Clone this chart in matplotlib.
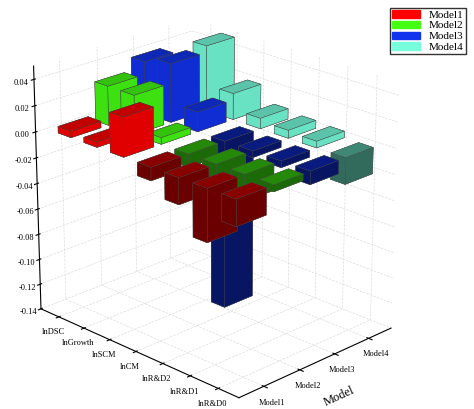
import numpy as np
import matplotlib.pyplot as plt

plt.rcParams['font.family'] = ['Liberation Serif', 'DejaVu Serif']

variables = ['lnDSC', 'lnGrowth', 'lnSCM', 'lnCM', 'lnR&D2', 'lnR&D1', 'lnR&D0']
models = ['Model1', 'Model2', 'Model3', 'Model4']
colors = ['#ff0000', '#44ff11', '#1133ee', '#77ffdd']

model1 = [0.005, 0.004, 0.03, -0.01, -0.02, -0.04, -0.02]
model2 = [0.03, 0.03, 0.005, -0.01, -0.015, -0.02, -0.005]
model3 = [0.04, 0.045, 0.015, -0.13, -0.005, -0.005, -0.01]
model4 = [0.02, 0.05, 0.02, 0.008, 0.006, 0.005, -0.02]
values = [model1, model2, model3, model4]

fig = plt.figure(figsize=(4.74, 4.09), dpi=100)
ax = fig.add_axes([-0.06, -0.03, 1.0, 1.06], projection='3d')

nv = len(variables)
for m, vals in enumerate(values):
    for v, val in enumerate(vals):
        y = nv - 1 - v
        ax.bar3d(m - 0.4, y - 0.25, 0, 0.8, 0.5, val,
                 color=colors[m], edgecolor='#444444', linewidth=0.3, shade=True)

ax.set_xticks(range(len(models)))
ax.set_xticklabels(models, fontsize=6)
ax.set_yticks(range(nv))
ax.set_yticklabels(variables[::-1], fontsize=6)
ax.set_zlim(-0.14, 0.05)
zt = np.arange(-0.14, 0.041, 0.02)
ax.set_zticks(zt)
ax.set_zticklabels([f'{t:.2f}' for t in zt], fontsize=6)
ax.zaxis.set_ticks_position('upper')
ax.set_xlabel('Model', fontsize=9, labelpad=-4)
ax.tick_params(pad=-2)
for a in (ax.xaxis, ax.yaxis, ax.zaxis):
    a.set_pane_color((1, 1, 1, 0))
    a._axinfo['grid']['color'] = '#dddddd'
    a._axinfo['grid']['linestyle'] = '--'
    a._axinfo['grid']['linewidth'] = 0.5
ax.view_init(elev=22, azim=-135)
ax.set_box_aspect((1, 1.3, 1.2))

handles = [plt.Rectangle((0, 0), 1, 1, color=c) for c in colors]
fig.legend(handles, models, loc='upper right', bbox_to_anchor=(0.995, 0.995),
           fontsize=8, handlelength=2.5, frameon=True, fancybox=False,
           edgecolor='black', borderpad=0.2, labelspacing=0.1)

fig.savefig('out.png', dpi=100)
